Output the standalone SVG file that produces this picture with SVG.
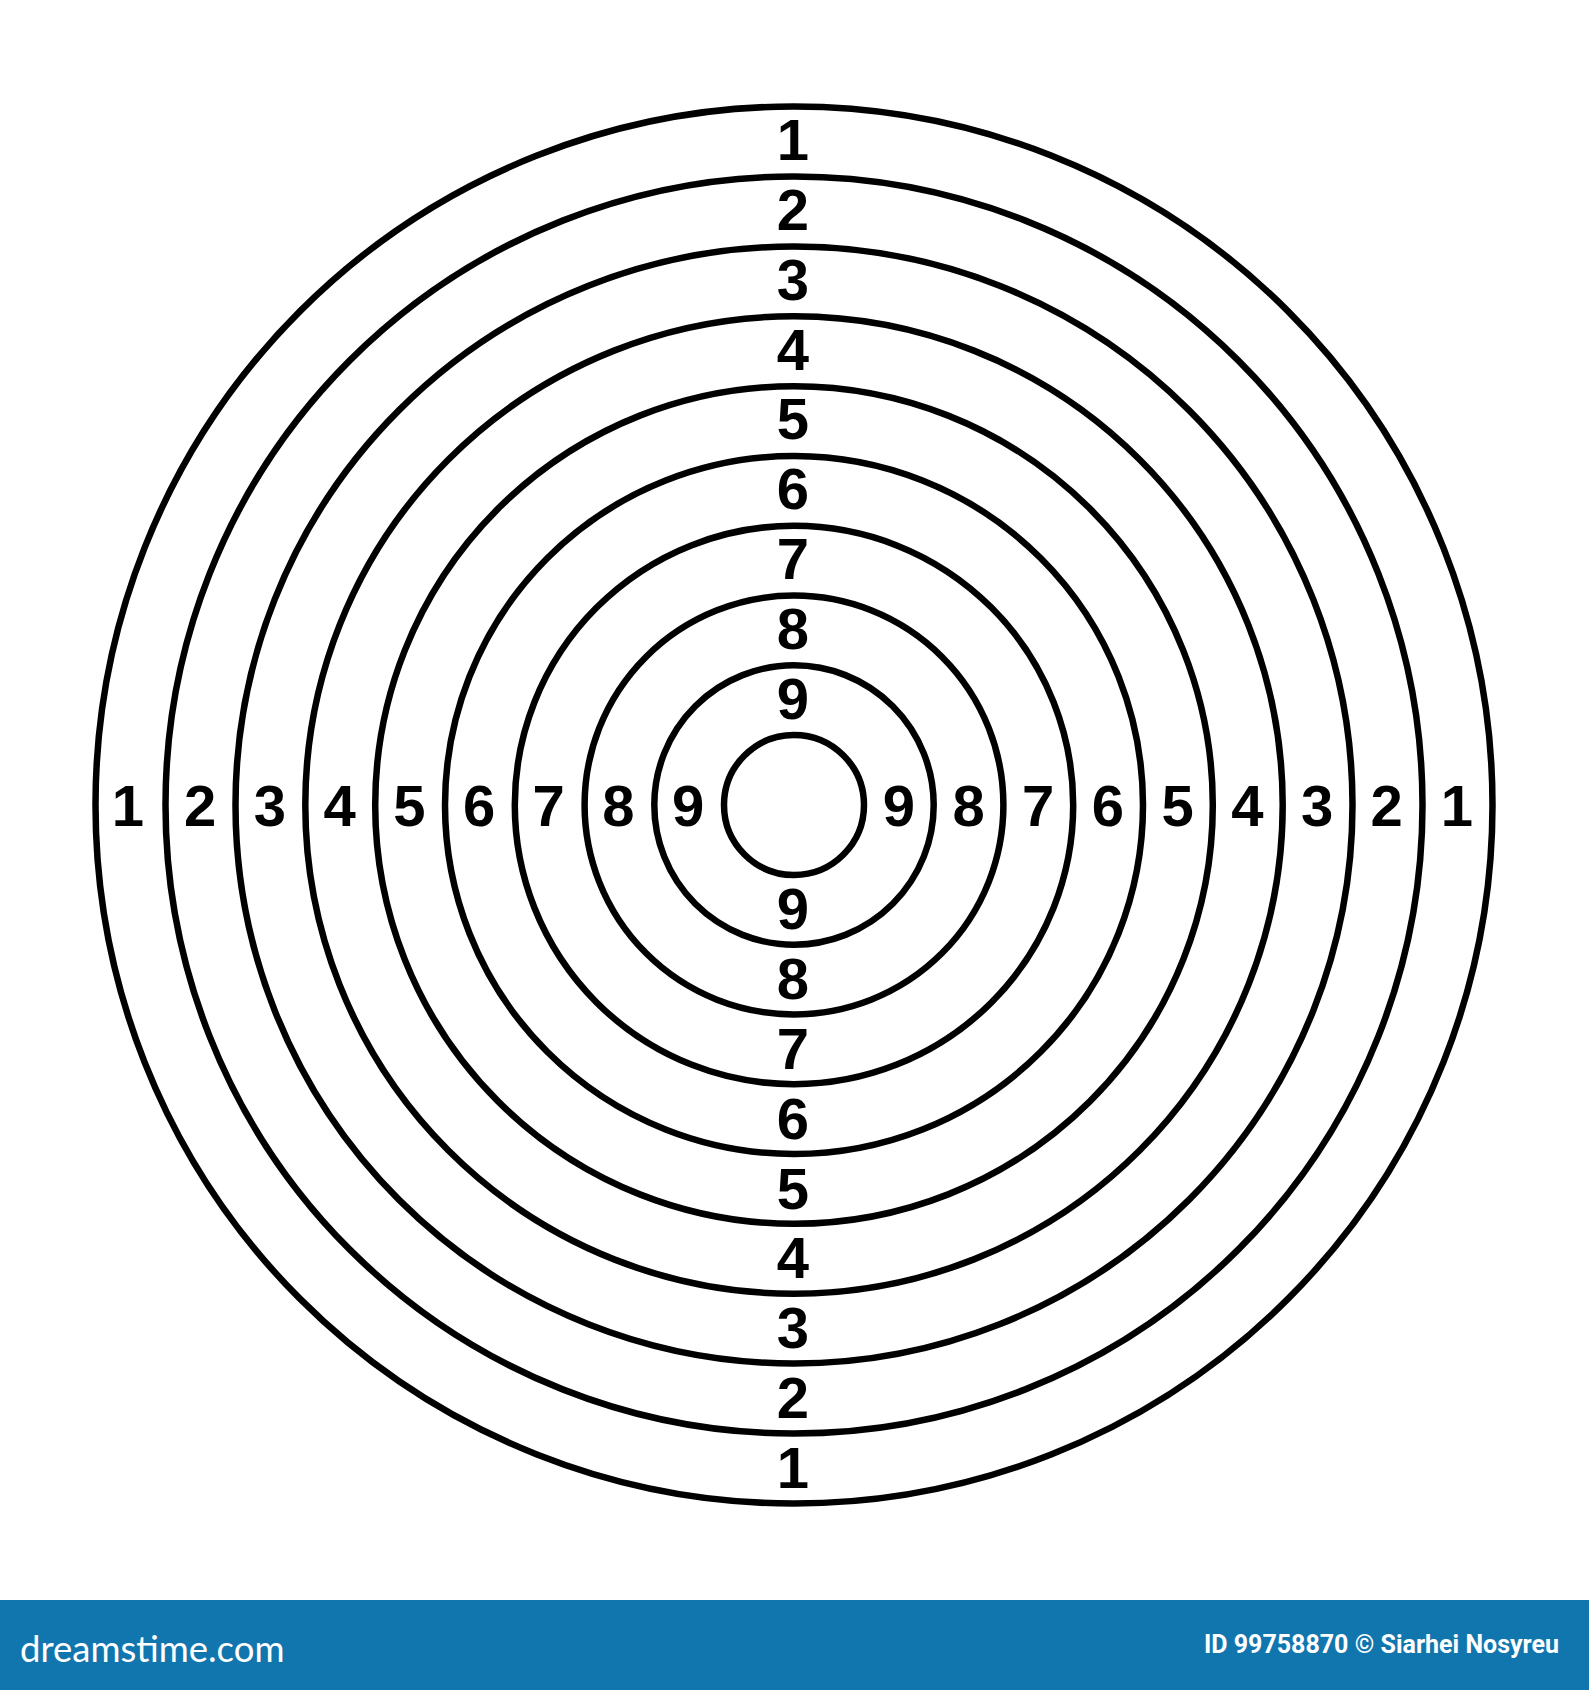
<svg xmlns="http://www.w3.org/2000/svg" width="1589" height="1690" viewBox="0 0 1589 1690">
<style>
.ring{fill:none;stroke:#000;stroke-width:6.5}
.n{font-family:"Liberation Sans",Arial,sans-serif;font-weight:bold;font-size:58px;fill:#000;text-anchor:middle}
.logo{font-family:"Lato","Open Sans",sans-serif;font-size:36.5px;fill:#fff}
.credit{font-family:Roboto,"Liberation Sans",sans-serif;font-weight:bold;font-size:25px;fill:#fff;text-anchor:end}
</style>
<rect width="1589" height="1690" fill="#fff"/>
<g id="ring1">
<circle class="ring" cx="794" cy="805" r="698.5"/>
<text class="n" x="793" y="160">1</text>
<text class="n" x="793" y="1488">1</text>
<text class="n" x="128" y="826">1</text>
<text class="n" x="1457" y="826">1</text>
</g>
<g id="ring2">
<circle class="ring" cx="794" cy="805" r="628.5"/>
<text class="n" x="793" y="230">2</text>
<text class="n" x="793" y="1418">2</text>
<text class="n" x="200.25" y="826">2</text>
<text class="n" x="1386.75" y="826">2</text>
</g>
<g id="ring3">
<circle class="ring" cx="794" cy="805" r="558.5"/>
<text class="n" x="793" y="300">3</text>
<text class="n" x="793" y="1348">3</text>
<text class="n" x="269.95" y="826">3</text>
<text class="n" x="1317.05" y="826">3</text>
</g>
<g id="ring4">
<circle class="ring" cx="794" cy="805" r="488.7"/>
<text class="n" x="793" y="370">4</text>
<text class="n" x="793" y="1278">4</text>
<text class="n" x="339.65" y="826">4</text>
<text class="n" x="1247.35" y="826">4</text>
</g>
<g id="ring5">
<circle class="ring" cx="794" cy="805" r="418.8"/>
<text class="n" x="793" y="439">5</text>
<text class="n" x="793" y="1209">5</text>
<text class="n" x="409.35" y="826">5</text>
<text class="n" x="1177.65" y="826">5</text>
</g>
<g id="ring6">
<circle class="ring" cx="794" cy="805" r="349"/>
<text class="n" x="793" y="509">6</text>
<text class="n" x="793" y="1139">6</text>
<text class="n" x="479.05" y="826">6</text>
<text class="n" x="1107.95" y="826">6</text>
</g>
<g id="ring7">
<circle class="ring" cx="794" cy="805" r="279.2"/>
<text class="n" x="793" y="579">7</text>
<text class="n" x="793" y="1069">7</text>
<text class="n" x="548.75" y="826">7</text>
<text class="n" x="1038.25" y="826">7</text>
</g>
<g id="ring8">
<circle class="ring" cx="794" cy="805" r="209.4"/>
<text class="n" x="793" y="649">8</text>
<text class="n" x="793" y="999">8</text>
<text class="n" x="618.45" y="826">8</text>
<text class="n" x="968.55" y="826">8</text>
</g>
<g id="ring9">
<circle class="ring" cx="794" cy="805" r="139.7"/>
<text class="n" x="793" y="719">9</text>
<text class="n" x="793" y="929">9</text>
<text class="n" x="688.15" y="826">9</text>
<text class="n" x="898.85" y="826">9</text>
</g>
<g id="bullseye">
<circle class="ring" cx="794" cy="805" r="70" stroke-width="6"/>
</g>
<g id="connectors"></g>
<g id="banner">
<rect x="0" y="1600" width="1589" height="90" fill="#1276ae"/>
<text class="logo" x="20" y="1662">dreamstime.com</text>
<text class="credit" x="1559" y="1653">ID 99758870 © Siarhei Nosyreu</text>
</g>
</svg>
